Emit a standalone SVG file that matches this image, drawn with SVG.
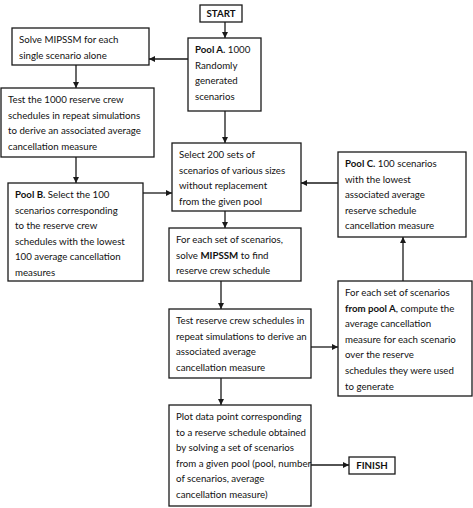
<svg xmlns="http://www.w3.org/2000/svg" width="473" height="508" viewBox="0 0 473 508">
<style>
.box{fill:#fff;stroke:#1a1a1a;stroke-width:1.3}
text{font-family:Lato,"Liberation Sans",sans-serif;font-size:9.7px;fill:#111}
.b{font-weight:bold}
.c{stroke:#1a1a1a;stroke-width:1.3;fill:none;marker-end:url(#ah)}
</style>
<defs>
<marker id="ah" markerUnits="userSpaceOnUse" markerWidth="7" markerHeight="7" refX="6" refY="3" orient="auto">
<path d="M0,0 L6,3 L0,6 z" fill="#1a1a1a"/>
</marker>
</defs>
<rect width="473" height="508" fill="#fff"/>
<g id="connectors">
<line class="c" x1="225" y1="22" x2="225" y2="38"/>
<line class="c" x1="188" y1="59" x2="149" y2="59"/>
<line class="c" x1="76" y1="65" x2="76" y2="88"/>
<line class="c" x1="225" y1="111" x2="225" y2="143"/>
<line class="c" x1="76" y1="157" x2="76" y2="183"/>
<line class="c" x1="143" y1="193" x2="172" y2="193"/>
<line class="c" x1="338" y1="183" x2="301" y2="183"/>
<line class="c" x1="225" y1="211" x2="225" y2="228"/>
<line class="c" x1="221" y1="281" x2="221" y2="309"/>
<line class="c" x1="311" y1="347" x2="338" y2="347"/>
<line class="c" x1="403" y1="281" x2="403" y2="237"/>
<line class="c" x1="221" y1="378" x2="221" y2="405"/>
<line class="c" x1="311" y1="465" x2="349" y2="465"/>
</g>
<g id="start">
<rect class="box" x="200" y="5" width="42" height="17"/>
<text class="b" x="221" y="17" text-anchor="middle">START</text>
</g>
<g id="poolA">
<rect class="box" x="188" y="38" width="73" height="73"/>
<text x="195" y="53"><tspan class="b">Pool A.</tspan> 1000</text>
<text x="195" y="68.6">Randomly</text>
<text x="195" y="84.2">generated</text>
<text x="195" y="99.8">scenarios</text>
</g>
<g id="solve">
<rect class="box" x="12" y="28" width="137" height="37"/>
<text x="19" y="43">Solve MIPSSM for each</text>
<text x="19" y="58.6">single scenario alone</text>
</g>
<g id="test1000">
<rect class="box" x="1" y="88" width="153" height="69"/>
<text x="8" y="103">Test the 1000 reserve crew</text>
<text x="8" y="118.6">schedules in repeat simulations</text>
<text x="8" y="134.2">to derive an associated average</text>
<text x="8" y="149.8">cancellation measure</text>
</g>
<g id="select">
<rect class="box" x="172" y="143" width="129" height="68"/>
<text x="179" y="158">Select 200 sets of</text>
<text x="179" y="173.6">scenarios of various sizes</text>
<text x="179" y="189.2">without replacement</text>
<text x="179" y="204.8">from the given pool</text>
</g>
<g id="poolC">
<rect class="box" x="338" y="152" width="128" height="85"/>
<text x="345" y="167"><tspan class="b">Pool C.</tspan> 100 scenarios</text>
<text x="345" y="182.6">with the lowest</text>
<text x="345" y="198.2">associated average</text>
<text x="345" y="213.8">reserve schedule</text>
<text x="345" y="229.4">cancellation measure</text>
</g>
<g id="poolB">
<rect class="box" x="8" y="183" width="135" height="98"/>
<text x="15" y="198"><tspan class="b">Pool B.</tspan> Select the 100</text>
<text x="15" y="213.6">scenarios corresponding</text>
<text x="15" y="229.2">to the reserve crew</text>
<text x="15" y="244.8">schedules with the lowest</text>
<text x="15" y="260.4">100 average cancellation</text>
<text x="15" y="276">measures</text>
</g>
<g id="foreach">
<rect class="box" x="169" y="228" width="132" height="53"/>
<text x="176" y="243">For each set of scenarios,</text>
<text x="176" y="258.6">solve <tspan class="b">MIPSSM</tspan> to find</text>
<text x="176" y="274.2">reserve crew schedule</text>
</g>
<g id="testReserve">
<rect class="box" x="169" y="309" width="142" height="69"/>
<text x="176" y="324">Test reserve crew schedules in</text>
<text x="176" y="339.6">repeat simulations to derive an</text>
<text x="176" y="355.2">associated average</text>
<text x="176" y="370.8">cancellation measure</text>
</g>
<g id="computeAvg">
<rect class="box" x="338" y="281" width="134" height="115"/>
<text x="345" y="296">For each set of scenarios</text>
<text x="345" y="311.6"><tspan class="b">from pool A</tspan>, compute the</text>
<text x="345" y="327.2">average cancellation</text>
<text x="345" y="342.8">measure for each scenario</text>
<text x="345" y="358.4">over the reserve</text>
<text x="345" y="374">schedules they were used</text>
<text x="345" y="389.6">to generate</text>
</g>
<g id="plot">
<rect class="box" x="169" y="405" width="142" height="101"/>
<text x="176" y="420">Plot data point corresponding</text>
<text x="176" y="435.6">to a reserve schedule obtained</text>
<text x="176" y="451.2">by solving a set of scenarios</text>
<text x="176" y="466.8">from a given pool (pool, number</text>
<text x="176" y="482.4">of scenarios, average</text>
<text x="176" y="498">cancellation measure)</text>
</g>
<g id="finish">
<rect class="box" x="349" y="457" width="46" height="17"/>
<text class="b" x="372" y="469" text-anchor="middle">FINISH</text>
</g>
</svg>
